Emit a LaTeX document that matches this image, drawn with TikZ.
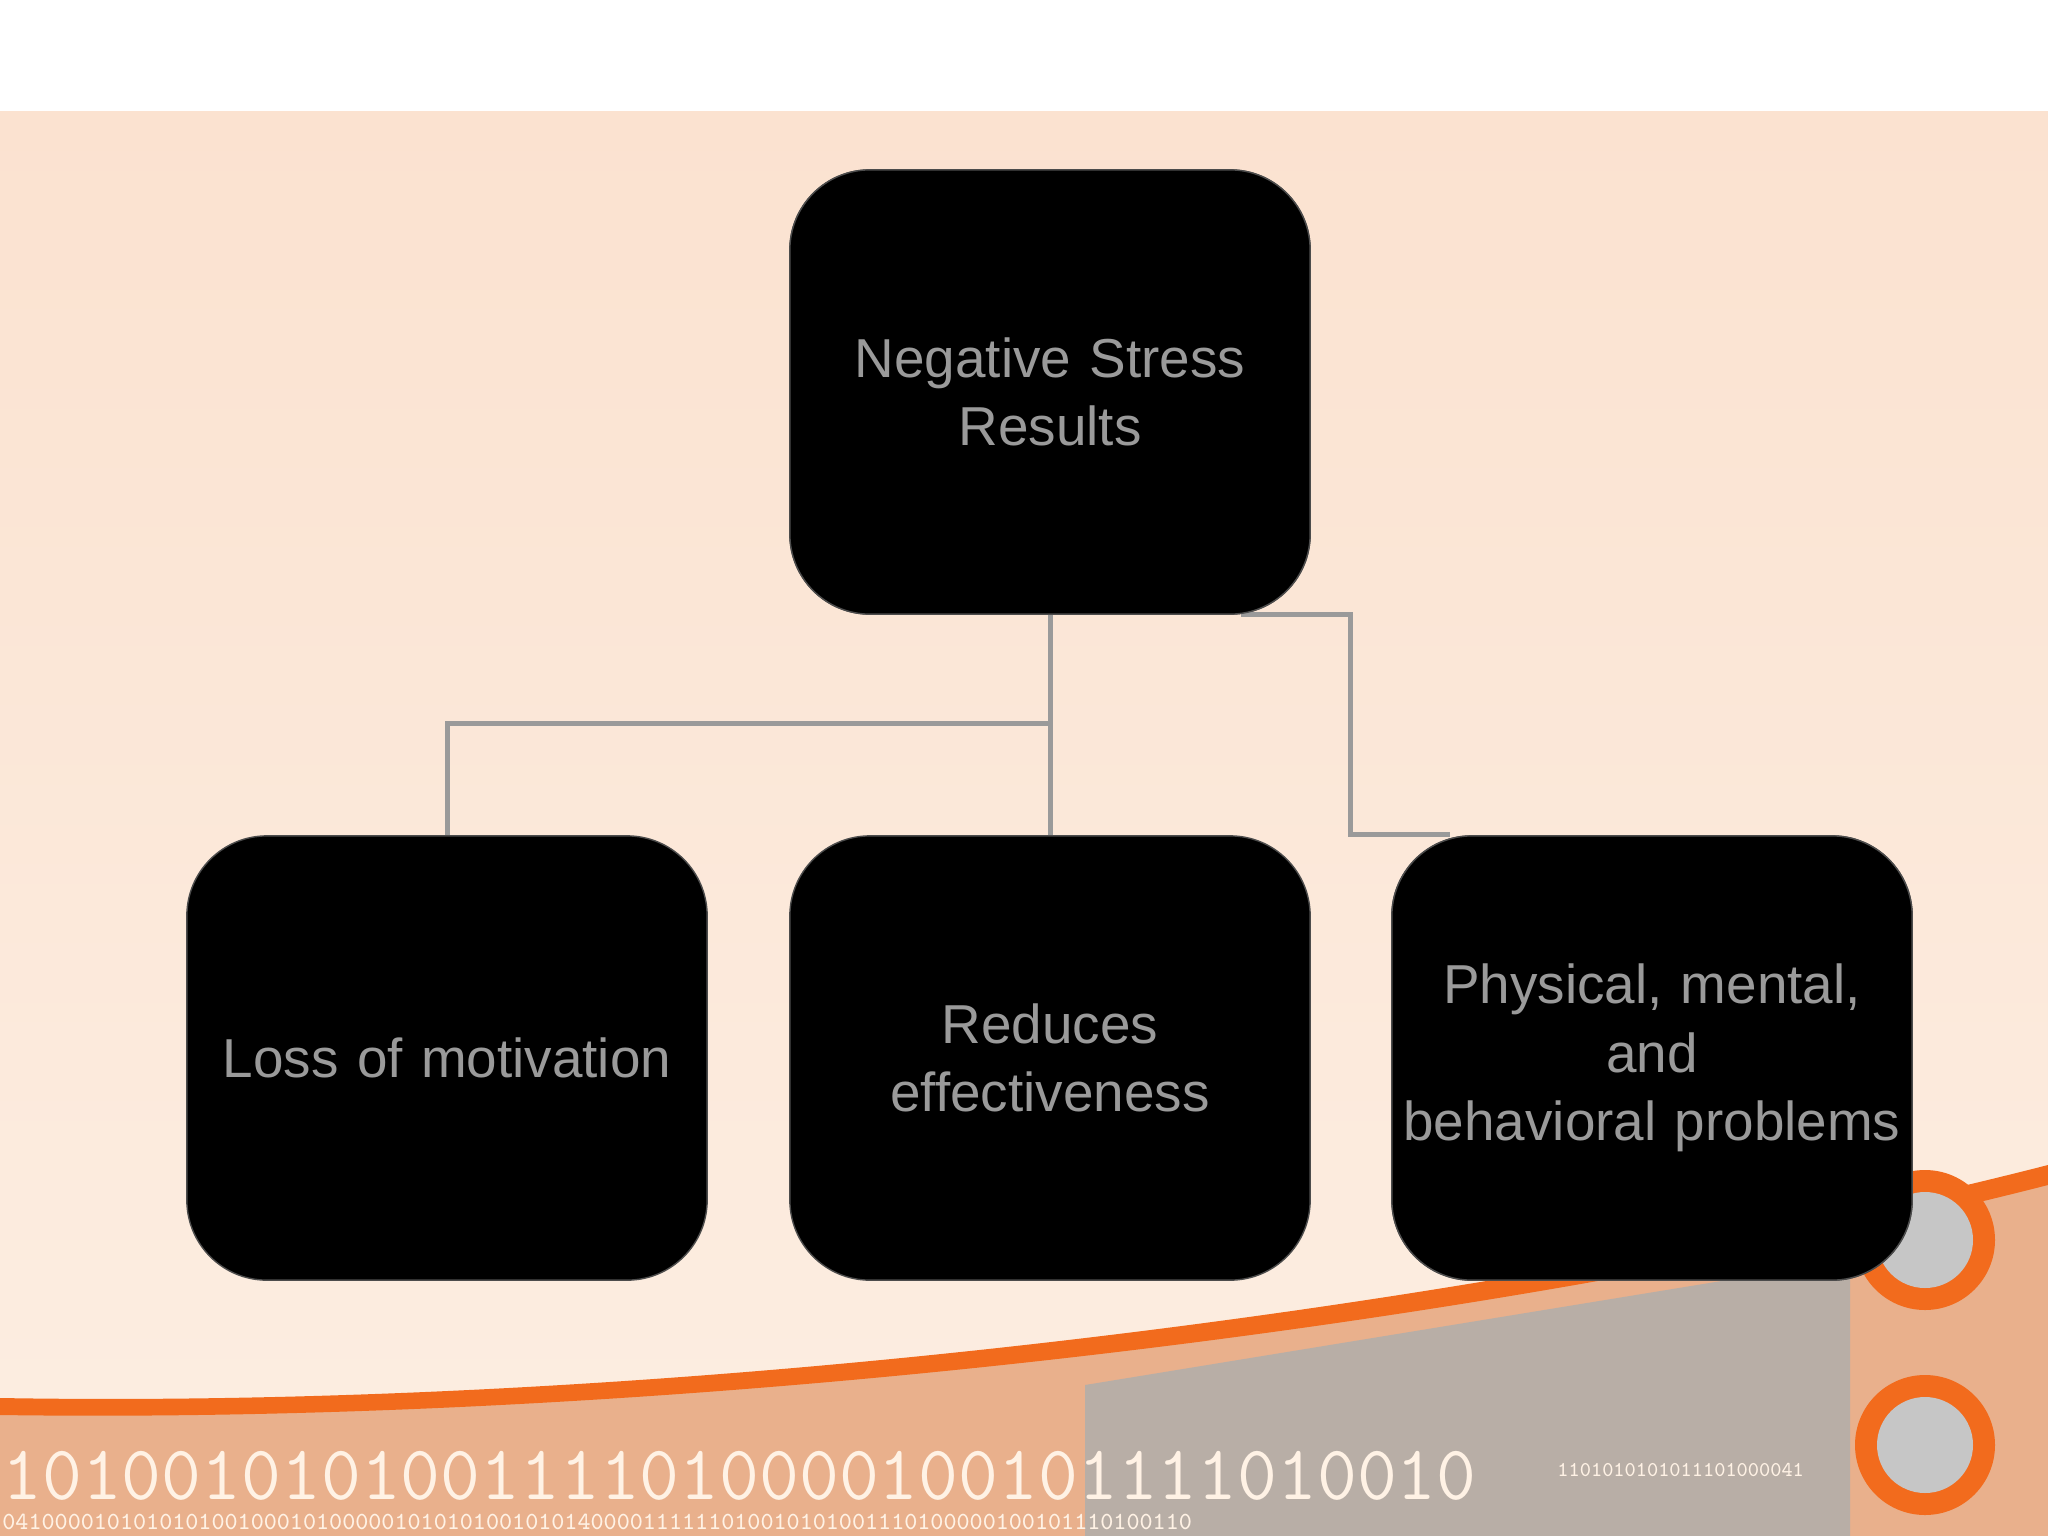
\documentclass[tikz,border=0pt]{standalone}
\usepackage{fontspec}
\setmainfont{Liberation Sans}
\definecolor{peach}{HTML}{FBE2D0}
\definecolor{peachlight}{HTML}{FCEEE2}
\definecolor{orangeA}{HTML}{F26B1D}
\definecolor{txtgray}{HTML}{9A9A9A}
\definecolor{linegray}{HTML}{9A9A9A}
\definecolor{lowpale}{HTML}{E9B08C}
\definecolor{lowgray}{HTML}{B8AEA6}
\tikzset{
  box/.style={draw=black!70, fill=black, rounded corners=0.8cm, minimum width=5.2cm, minimum height=4.44cm, text width=5.2cm, inner sep=0pt, align=center, text=txtgray, font=\fontsize{15.6}{19.5}\selectfont},
  conn/.style={draw=linegray, line width=0.05cm},
  bits/.style={anchor=west, text=white!90!orange, font=\ttfamily}
}
\begin{document}
\begin{tikzpicture}[x=0.01cm,y=-0.01cm]
\useasboundingbox (0,0) rectangle (2048,1536);
\fill[white] (0,0) rectangle (2048,111);
\shade[top color=peach, bottom color=peachlight] (0,111) rectangle (2048,1536);
% bottom swoosh
\fill[lowpale] (0,1412) .. controls (700,1420) and (1500,1320) .. (2048,1180) -- (2048,1536) -- (0,1536) -- cycle;
\fill[lowgray] (1085,1385) -- (1850,1260) -- (1850,1536) -- (1085,1536) -- cycle;
\fill[orangeA] (0,1398) .. controls (700,1410) and (1500,1305) .. (2048,1165) -- (2048,1185) .. controls (1500,1325) and (700,1425) .. (0,1415) -- cycle;
\fill[orangeA] (1925,1240) circle (70);
\fill[gray!45] (1925,1240) circle (48);
\fill[orangeA] (1925,1445) circle (70);
\fill[gray!45] (1925,1445) circle (48);
\node[bits, font=\ttfamily\fontsize{22}{22}\selectfont] (bin) at (-10,1476) {1010010101001111010000100101111010010};
\node[bits, font=\ttfamily\fontsize{6}{6}\selectfont] (bin2) at (1545,1470) {1101010101011101000041};
\node[bits, font=\ttfamily\fontsize{7}{7}\selectfont] (bin3) at (-10,1522) {0410000101010101001000101000001010101001010140000111111010010101001110100000100101110100110};
% boxes
\node[box] (top) at (1050,392) {Negative Stress\\Results};
\node[box] (l) at (447,1058) {Loss of motivation};
\node[box] (m) at (1050,1058) {Reduces\\effectiveness};
\node[box] (r) at (1652,1058) {Physical, mental,\\and\\behavioral problems};
\coordinate (j) at (1050,723);
\draw[conn] (top.south) -- (m.north);
\draw[conn] (j) -| (l.north);
\coordinate (rs) at (1241,614);
\coordinate (re) at (1450,834);
\draw[conn] (rs) -| (1350,834) -- (re);
\node[box] at (1652,1058) {Physical, mental,\\and\\behavioral problems};
\node[box] at (1050,392) {Negative Stress\\Results};
\end{tikzpicture}
\end{document}
